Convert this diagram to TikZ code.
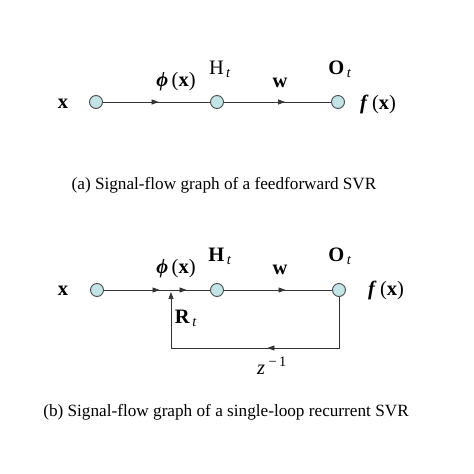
\documentclass[tikz,border=0pt]{standalone}
\usepackage{fontspec}
\setmainfont{Liberation Serif}
\usetikzlibrary{arrows.meta,decorations.markings}

\definecolor{nodecyan}{HTML}{C2E4E6}
\tikzset{
  sig/.style={circle,draw=black!70,fill=nodecyan,minimum size=13pt,inner sep=0pt,line width=0.9pt},
  flow/.style={draw=black!80,line width=0.7pt},
  lab/.style={font=\fontsize{20.5}{24}\selectfont},
  captext/.style={font=\fontsize{17.2}{20}\selectfont},
  midarrow/.style={postaction={decorate},decoration={markings,mark=at position #1 with {\arrow{Triangle[length=7pt,width=5pt]}}}},
  midarrow/.default=0.5
}
\newcommand{\subt}{\textsubscript{\,\textit{t}}}

\begin{document}
\begin{tikzpicture}[x=1pt,y=-1pt]
			\useasboundingbox[fill=white] (0,0) rectangle (474,474);
			% (a) feedforward
			\node[sig] (xa) at (96,102) {};
			\node[sig] (ha) at (217,102) {};
			\node[sig] (oa) at (338,102) {};
			\draw[flow,midarrow=0.52] (xa) -- (ha);
			\draw[flow,midarrow=0.57] (ha) -- (oa);
			\node[lab] (xla) at (63,104) {\textbf{x}};
			\node[lab] (pa) at (176,82) {\textbf{\textit{ϕ}}\,(\textbf{x})};
			\node[lab] (hla) at (220,69) {H\subt};
			\node[lab] (wa) at (280,83) {\textbf{w}};
			\node[lab] (ola) at (340,69) {\textbf{O}\subt};
			\node[lab] (fa) at (378,104) {\textbf{\textit{f}}\,(\textbf{x})};
			\node[captext] (capa) at (224,185) {(a) Signal-flow graph of a feedforward SVR};
			% (b) single-loop recurrent
			\node[sig] (xb) at (97,290) {};
			\node[sig] (hb) at (217,290) {};
			\node[sig] (ob) at (339,290) {};
			\coordinate (jb) at (171,290);
			\coordinate (rb) at (339,348);
			\coordinate (lb) at (171,348);
			\draw[flow,midarrow=0.83] (xb) -- (jb);
			\draw[flow,midarrow=0.4] (jb) -- (hb);
			\draw[flow,midarrow=0.57] (hb) -- (ob);
			\draw[flow,midarrow=0.56] (ob) -- (rb) -- (lb);
			\draw[flow,-{Triangle[length=7pt,width=5pt]}] (lb) -- ([yshift=-2pt]jb);
			\node[lab] (xlb) at (63,291) {\textbf{x}};
			\node[lab] (pb) at (176,269) {\textbf{\textit{ϕ}}\,(\textbf{x})};
			\node[lab] (hlb) at (220,256) {\textbf{H}\subt};
			\node[lab] (wb) at (280,270) {\textbf{w}};
			\node[lab] (olb) at (340,256) {\textbf{O}\subt};
			\node[lab] (fb) at (386,290) {\textbf{\textit{f}}\,(\textbf{x})};
			\node[lab] (rl) at (186,318) {\textbf{R}\subt};
			\node[lab] (zl) at (272,366) {\textit{z}\,\textsuperscript{−\,1}};
			\node[captext] (capb) at (226,412) {(b) Signal-flow graph of a single-loop recurrent SVR};
			\end{tikzpicture}
\end{document}
